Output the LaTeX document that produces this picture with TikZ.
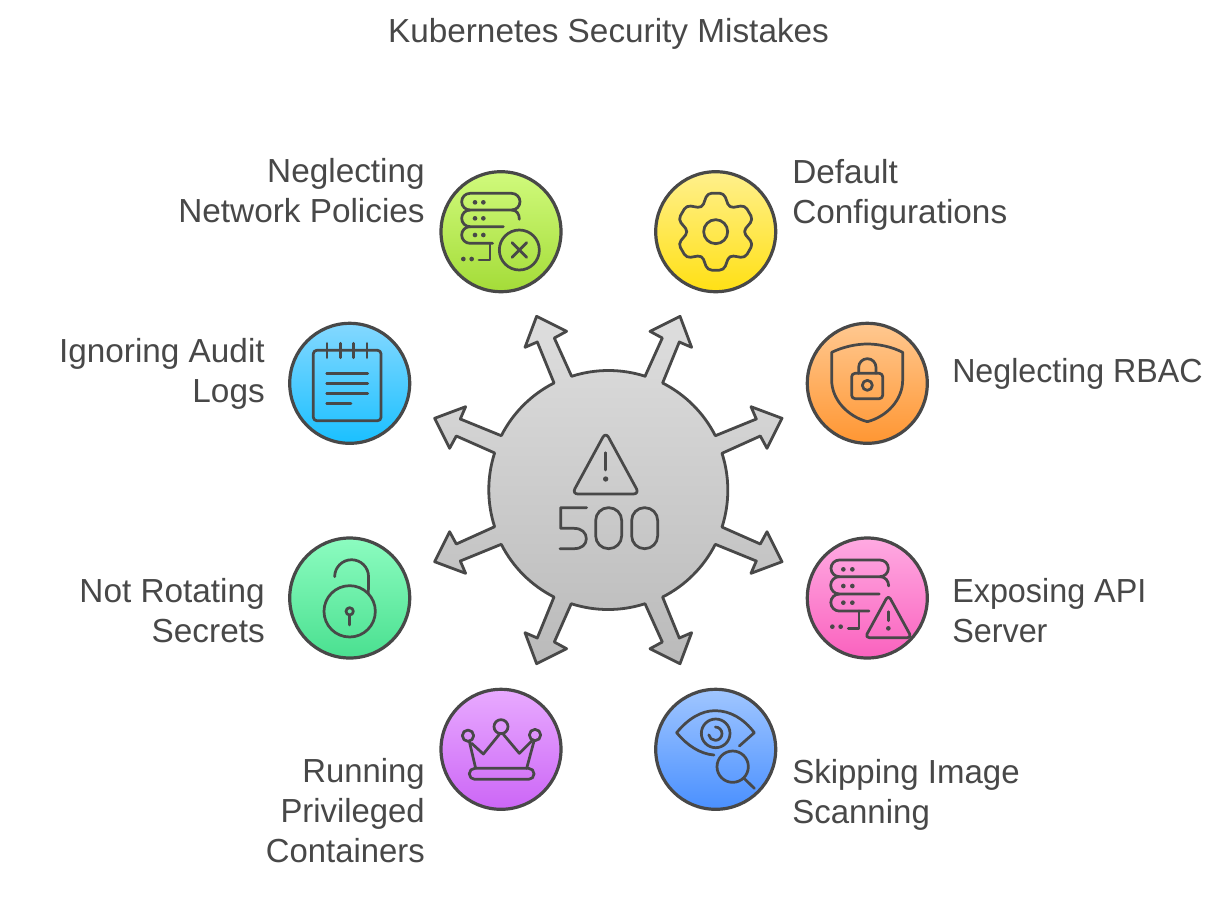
\documentclass[tikz,border=0pt]{standalone}
\usepackage{fontspec}
\setmainfont{Liberation Sans}
\definecolor{ink}{HTML}{484848}
\tikzset{
  x=0.75pt,y=-0.75pt,
  disc/.style={circle,draw=ink,line width=2.4pt,minimum size=90pt,inner sep=0pt,top color=#1},
  ico/.style={draw=ink,line width=2.05pt,line cap=round,line join=round},
  lab/.style={text=ink,font=\fontsize{25}{30}\selectfont,inner sep=0pt},
  labr/.style={lab,anchor=east,align=right},
  labl/.style={lab,anchor=west,align=left},
  narrow/.style={xscale=#1,transform shape},
  zoomed/.style={x=0.25pt,y=-0.25pt},
}
\definecolor{c1t}{HTML}{D0FA7C}\definecolor{c1b}{HTML}{A4DC38}
\definecolor{c2t}{HTML}{FFF08C}\definecolor{c2b}{HTML}{FFE014}
\definecolor{c3t}{HTML}{FFC890}\definecolor{c3b}{HTML}{FF9632}
\definecolor{c4t}{HTML}{FFAAE2}\definecolor{c4b}{HTML}{FA62BE}
\definecolor{c5t}{HTML}{A0C6FF}\definecolor{c5b}{HTML}{4A90FF}
\definecolor{c6t}{HTML}{E8AAFF}\definecolor{c6b}{HTML}{CC66F6}
\definecolor{c7t}{HTML}{8CFCC0}\definecolor{c7b}{HTML}{4AE090}
\definecolor{c8t}{HTML}{84D8FF}\definecolor{c8b}{HTML}{1AC0FF}
\begin{document}
\begin{tikzpicture}
\useasboundingbox (0,0) rectangle (1230,915);
\fill[white] (0,0) rectangle (1230,915);

\node[lab] (title) at (608.5,34) {Kubernetes Security Mistakes};

% hub with eight arrows
\begin{scope}[shift={(608.3,490)}]
\shadedraw[top color=black!13,bottom color=black!27,draw=ink,line width=2.1pt,line join=round]
 (36.7,-113.7) -- (54,-152) -- (41.7,-158.7) -- (71.7,-173.7) -- (83.3,-142.7) -- (71,-148) -- (54.3,-107)
 arc[start angle=63.1,end angle=26.9,radius=90pt]
 -- (148,-71) -- (142.7,-83.3) -- (173.7,-71.7) -- (158.7,-41.7) -- (152,-54) -- (113.7,-36.7)
 arc[start angle=17.9,end angle=-17.9,radius=90pt]
 -- (152,54) -- (158.7,41.7) -- (173.7,71.7) -- (142.7,83.3) -- (148,71) -- (107,54.3)
 arc[start angle=-26.9,end angle=-63.1,radius=90pt]
 -- (71,148) -- (83.3,142.7) -- (71.7,173.7) -- (41.7,158.7) -- (54,152) -- (36.7,113.7)
 arc[start angle=-72.1,end angle=-107.9,radius=90pt]
 -- (-54,152) -- (-41.7,158.7) -- (-71.7,173.7) -- (-83.3,142.7) -- (-71,148) -- (-54.3,107)
 arc[start angle=-116.9,end angle=-153.1,radius=90pt]
 -- (-148,71) -- (-142.7,83.3) -- (-173.7,71.7) -- (-158.7,41.7) -- (-152,54) -- (-113.7,36.7)
 arc[start angle=-162.1,end angle=-197.9,radius=90pt]
 -- (-152,-54) -- (-158.7,-41.7) -- (-173.7,-71.7) -- (-142.7,-83.3) -- (-148,-71) -- (-107,-54.3)
 arc[start angle=-206.9,end angle=-243.1,radius=90pt]
 -- (-71,-148) -- (-83.3,-142.7) -- (-71.7,-173.7) -- (-41.7,-158.7) -- (-54,-152) -- (-36.7,-113.7)
 arc[start angle=-252.1,end angle=-287.9,radius=90pt]
 -- cycle;
\end{scope}

% hub symbol
\begin{scope}[shift={(430,310)},zoomed]
\draw[ico,rounded corners=4.5pt] (527,366) -- (628,552) -- (426,552) -- cycle;
\draw[ico] (527,428) -- (527,480);
\fill[ink] (527,507) circle[radius=8];
\draw[ico] (470,593) -- (392,593) -- (392,655) -- (432,655)
  .. controls (455,655) and (469,668) .. (469,686)
  .. controls (469,704) and (455,716) .. (432,716) -- (390,716);
\draw[ico,rounded corners=9.6pt] (497,593) rectangle (575,716);
\draw[ico,rounded corners=9.6pt] (605,593) rectangle (683,716);
\end{scope}

% discs
\node[disc=c1t,bottom color=c1b] (d1) at (501,231.7) {};
\node[disc=c2t,bottom color=c2b] (d2) at (715.7,231.7) {};
\node[disc=c3t,bottom color=c3b] (d3) at (867.3,383.3) {};
\node[disc=c4t,bottom color=c4b] (d4) at (867.3,598) {};
\node[disc=c5t,bottom color=c5b] (d5) at (715.7,749.3) {};
\node[disc=c6t,bottom color=c6b] (d6) at (501,749.3) {};
\node[disc=c7t,bottom color=c7b] (d7) at (349.7,598) {};
\node[disc=c8t,bottom color=c8b] (d8) at (349.7,383.3) {};

% labels
\node[labr] (l1) at (425,191) {Neglecting\\Network Policies};
\node[labl] (l2) at (792,194.7) {Default\\Configurations};
\node[labl,narrow=.965] (l3) at (952,374) {Neglecting RBAC};
\node[labl,narrow=.97] (l4) at (952,611) {Exposing API\\Server};
\node[labl,narrow=.99] (l5) at (792,795) {Skipping Image\\Scanning};
\node[labr,narrow=.985] (l6) at (425,811) {Running\\Privileged\\Containers};
\node[labr] (l7) at (265,611) {Not Rotating\\Secrets};
\node[labr] (l8) at (265,374) {Ignoring Audit\\Logs};

% icons: neglecting network policies / default configurations
\begin{scope}[shift={(430,160)},zoomed]
\draw[ico] (120,100) -- (245,100) arc[start angle=90,end angle=-90,radius=6.25pt] -- (120,150)
  arc[start angle=270,end angle=90,radius=6.25pt] -- cycle;
\draw[ico] (120,150) arc[start angle=90,end angle=270,radius=6.25pt] -- (220,200);
\draw[ico] (245,150) .. controls (260,150) and (268,162) .. (268,178);
\draw[ico] (120,200) arc[start angle=90,end angle=270,radius=6.25pt] -- (188,250);
\draw[ico] (180,250) -- (180,300) -- (147,300);
\fill[ink] (135,127) circle[radius=7] (160,127) circle[radius=7]
           (135,175) circle[radius=7] (160,175) circle[radius=7]
           (135,225) circle[radius=7] (160,225) circle[radius=7]
           (100,297) circle[radius=7] (125,297) circle[radius=7];
\draw[ico] (268,270) circle[radius=60];
\draw[ico] (246,248) -- (290,292) (290,248) -- (246,292);
\begin{scope}[shift={(857,215)}]
\draw[ico] (0,0) circle[radius=36];
\draw[ico,rounded corners=3.2pt]
  (120:82) \foreach \a in {90,30,-30,-90,-150}{ -- (\a+12:118) -- (\a-12:118) -- (\a-30:82)}
  -- (-198:118) -- (-222:118) -- cycle;
\end{scope}
\end{scope}

% audit logs notebook / unlocked padlock
\begin{scope}[shift={(280,310)},zoomed]
\draw[ico,rounded corners=2.5pt] (100,121) rectangle (303,332);
\draw[ico] (141,100) -- (141,143) (181,100) -- (181,143) (221,100) -- (221,143) (261,100) -- (261,143);
\draw[ico] (140,191) -- (263,191) (140,221) -- (263,221) (140,251) -- (263,251) (140,281) -- (213,281);
\draw[ico] (209,904) circle[radius=77];
\draw[ico] (164,800) arc[start angle=180,end angle=0,radius=12.7pt] -- (265,850);
\draw[ico] (209,904) circle[radius=11];
\draw[ico] (209,916) -- (209,945);
\end{scope}

% shield / server warning
\begin{scope}[shift={(800,310)},zoomed]
\draw[ico] (95,127) .. controls (130,110) and (170,102) .. (202,102)
  .. controls (235,102) and (275,110) .. (308,127) -- (308,210)
  .. controls (308,270) and (260,320) .. (202,335)
  .. controls (145,320) and (95,270) .. (95,210) -- cycle;
\draw[ico,rounded corners=2.5pt] (155,190) rectangle (248,266);
\draw[ico] (176,190) -- (176,172) arc[start angle=180,end angle=0,radius=6.5pt] -- (228,190);
\draw[ico] (202,226) circle[radius=15];
\draw[ico] (118,750) -- (240,750) arc[start angle=90,end angle=-90,radius=6.25pt] -- (118,800)
  arc[start angle=270,end angle=90,radius=6.25pt] -- cycle;
\draw[ico] (118,800) arc[start angle=90,end angle=270,radius=6.5pt] -- (238,852);
\draw[ico] (240,800) .. controls (255,800) and (266,812) .. (266,828);
\draw[ico] (118,852) arc[start angle=90,end angle=270,radius=6.4pt] -- (207,903);
\draw[ico] (177,903) -- (177,955) -- (145,955);
\fill[ink] (130,778) circle[radius=7] (157,778) circle[radius=7]
           (130,828) circle[radius=7] (157,828) circle[radius=7]
           (130,878) circle[radius=7] (157,878) circle[radius=7]
           (97,950) circle[radius=7] (122,950) circle[radius=7];
\draw[ico,rounded corners=3.2pt] (265,855) -- (335,983) -- (195,983) -- cycle;
\draw[ico] (265,905) -- (265,932);
\fill[ink] (265,955) circle[radius=7];
\end{scope}

% crown / eye
\begin{scope}[shift={(430,680)},zoomed]
\draw[ico] (114,167) circle[radius=17] (213,140) circle[radius=21] (315,165) circle[radius=17];
\draw[ico] (118,184) -- (137,265) (312,183) -- (290,265);
\draw[ico] (125,190) -- (160,222) -- (208,163) (220,163) -- (268,220) -- (305,183);
\draw[ico,rounded corners=4pt] (118,265) rectangle (312,298);
\draw[ico] (740,158) .. controls (775,115) and (815,92) .. (855,92)
  .. controls (900,92) and (940,115) .. (973,158) -- (928,198);
\draw[ico] (740,158) .. controls (770,195) and (810,222) .. (852,225);
\draw[ico] (857,160) circle[radius=43];
\draw[ico] (856,141) arc[start angle=90,end angle=-170,radius=5pt];
\draw[ico] (908,260) circle[radius=47];
\draw[ico] (942,295) -- (973,325);
\end{scope}

\end{tikzpicture}
\end{document}
